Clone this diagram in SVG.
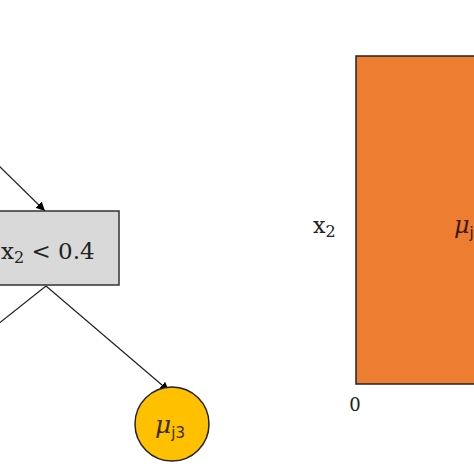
<svg xmlns="http://www.w3.org/2000/svg" width="474" height="474" viewBox="0 0 474 474">
<defs>
<marker id="arr" viewBox="0 0 10 10" refX="10" refY="5" markerWidth="9" markerHeight="9" markerUnits="userSpaceOnUse" orient="auto"><path d="M0,0 L10,5 L0,10 z" fill="#000"/></marker>
<style>
.serif{font-family:"DejaVu Serif","Liberation Serif",serif;fill:#222}
.mu{font-family:"DejaVu Serif","Liberation Serif",serif;font-style:italic}
.sub{font-family:"DejaVu Sans","Liberation Sans",sans-serif;font-style:normal}
.edge{stroke:#222;stroke-width:1.2;fill:none}
</style>
</defs>
<rect width="474" height="474" fill="#fff"/>
<g id="connectors">
<line class="edge" x1="-2" y1="165" x2="45" y2="211" marker-end="url(#arr)"/>
<line class="edge" x1="46" y1="286" x2="-2" y2="324"/>
<line class="edge" x1="46" y1="286" x2="169" y2="391" marker-end="url(#arr)"/>
</g>
<g id="split">
<rect x="-10" y="211" width="129" height="74" fill="#d9d9d9" stroke="#333" stroke-width="1.5"/>
<text class="serif" x="1" y="259" font-size="23">x<tspan font-size="16" dy="4">2</tspan><tspan dy="-4"> &lt; 0.4</tspan></text>
</g>
<g id="leaf3">
<circle cx="172" cy="424" r="37" fill="#ffc000" stroke="#222" stroke-width="1.5"/>
<text class="mu" x="155" y="433" font-size="25" fill="#3a2a10">μ<tspan class="sub" font-size="15" dy="5">j3</tspan></text>
</g>
<g id="plot">
<rect x="356" y="56" width="130" height="328" fill="#ed7d31" stroke="#222" stroke-width="1.5"/>
<text class="serif" x="313" y="233" font-size="22">x<tspan font-size="16" dy="4">2</tspan></text>
<text class="serif" x="355" y="411" font-size="18" text-anchor="middle">0</text>
<text class="mu" x="454" y="233" font-size="24" fill="#3a1a08">μ<tspan class="sub" font-size="15" dy="5">j</tspan></text>
</g>
</svg>
